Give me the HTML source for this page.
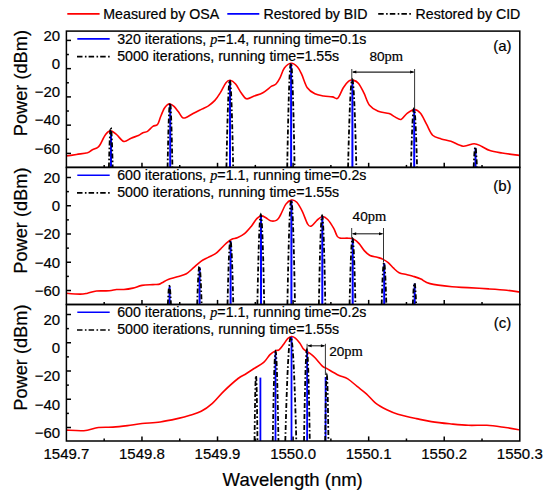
<!DOCTYPE html>
<html><head><meta charset="utf-8"><style>html,body{margin:0;padding:0;background:#fff;width:550px;height:499px;overflow:hidden} text{stroke:#000;stroke-width:0.2px}</style></head>
<body>
<svg width="550" height="499" viewBox="0 0 550 499" style="display:block">
<rect width="550" height="499" fill="#fff"/>
<line x1="67.3" y1="13.9" x2="99.6" y2="13.9" stroke="#ff0000" stroke-width="1.6"/>
<text x="103.3" y="18.6" font-size="14.2" font-family='"Liberation Sans", sans-serif' fill="#000">Measured by OSA</text>
<line x1="227.3" y1="13.9" x2="259.3" y2="13.9" stroke="#0000ff" stroke-width="1.6"/>
<text x="263.4" y="18.6" font-size="14.2" font-family='"Liberation Sans", sans-serif' fill="#000">Restored by BID</text>
<line x1="378.2" y1="13.9" x2="411" y2="13.9" stroke="#000" stroke-width="1.6" stroke-dasharray="5.5,2.4,1.6,2.1"/>
<text x="415.5" y="18.6" font-size="14.2" font-family='"Liberation Sans", sans-serif' fill="#000">Restored by CID</text>
<clipPath id="clip0"><rect x="66.4" y="31.1" width="453.4" height="136.3"/></clipPath>
<path d="M66.0,156.0 C67.8,155.8 72.9,155.1 76.5,154.5 C80.1,153.9 84.9,153.4 87.5,152.7 C90.1,151.9 90.3,150.8 92.0,150.0 C93.7,149.2 96.1,148.5 97.5,147.6 C98.9,146.7 98.9,146.7 100.2,144.5 C101.5,142.3 103.8,136.8 105.6,134.5 C107.3,132.2 108.9,130.9 110.7,130.9 C112.5,130.9 114.3,132.7 116.5,134.5 C118.7,136.3 121.4,140.9 123.8,141.5 C126.2,142.1 128.7,139.2 131.1,138.2 C133.5,137.2 136.4,136.4 138.4,135.5 C140.4,134.6 141.4,133.4 142.9,132.7 C144.4,132.0 145.8,132.4 147.5,131.3 C149.2,130.2 151.2,127.5 152.9,126.4 C154.6,125.3 156.2,126.0 157.5,124.5 C158.8,123.0 159.3,120.0 160.4,117.3 C161.5,114.6 163.0,110.6 164.2,108.5 C165.4,106.4 166.5,105.5 167.5,104.7 C168.5,104.0 169.1,103.7 170.2,104.0 C171.3,104.3 172.6,105.1 174.0,106.4 C175.4,107.7 177.0,110.0 178.4,111.8 C179.8,113.6 181.0,116.3 182.2,117.3 C183.4,118.3 183.7,118.4 185.5,117.8 C187.3,117.2 190.4,115.0 193.1,113.5 C195.8,112.0 199.2,110.4 201.8,109.1 C204.4,107.8 206.2,107.2 208.4,105.8 C210.6,104.3 212.9,102.6 214.9,100.4 C216.9,98.2 218.6,95.6 220.4,92.7 C222.2,89.8 224.2,85.0 225.8,82.9 C227.4,80.8 228.6,80.1 230.2,80.3 C231.8,80.5 233.8,81.9 235.6,84.0 C237.4,86.1 239.3,90.2 241.1,92.7 C242.9,95.2 244.3,98.2 246.5,98.8 C248.7,99.3 251.5,97.0 254.2,96.0 C256.9,95.0 260.0,94.3 262.9,92.7 C265.8,91.1 269.4,87.7 271.6,86.2 C273.8,84.8 274.6,85.4 276.0,84.0 C277.4,82.6 278.6,80.6 280.0,77.9 C281.4,75.2 282.6,70.5 284.4,68.1 C286.2,65.7 288.7,63.5 290.9,63.3 C293.1,63.1 295.7,65.1 297.5,67.0 C299.3,68.9 300.2,71.1 301.8,74.6 C303.4,78.0 305.1,84.5 307.3,87.7 C309.5,90.9 312.2,92.4 314.9,93.8 C317.6,95.2 320.7,95.5 323.6,96.0 C326.5,96.5 330.0,96.5 332.4,96.9 C334.8,97.3 336.0,99.7 337.8,98.2 C339.6,96.7 341.5,90.5 343.3,87.7 C345.1,84.9 347.1,82.5 348.7,81.2 C350.3,79.9 351.5,79.7 353.1,80.1 C354.8,80.5 356.8,81.2 358.6,83.4 C360.4,85.6 362.2,89.6 364.0,93.2 C365.8,96.8 367.1,102.2 369.5,105.2 C371.9,108.2 374.9,109.9 378.2,111.3 C381.5,112.7 386.3,112.6 389.1,113.5 C391.9,114.4 392.9,115.9 394.9,116.9 C396.9,117.9 399.0,120.0 401.0,119.4 C403.0,118.8 404.9,114.9 407.1,113.3 C409.3,111.7 412.2,109.6 414.4,109.6 C416.6,109.6 418.5,110.9 420.5,113.3 C422.5,115.7 424.5,120.6 426.5,124.2 C428.5,127.8 430.2,132.8 432.6,135.2 C435.1,137.6 438.1,137.9 441.2,138.9 C444.2,139.9 447.2,140.1 450.9,141.3 C454.5,142.5 459.2,145.8 463.1,146.2 C467.0,146.6 471.1,143.7 474.1,143.7 C477.2,143.7 478.8,145.0 481.4,146.2 C484.0,147.3 486.4,149.5 489.9,150.6 C493.3,151.7 497.2,152.2 502.1,153.0 C507.0,153.8 516.3,155.0 519.1,155.4" fill="none" stroke="#ff0000" stroke-width="1.6" clip-path="url(#clip0)"/>
<line x1="111" y1="131" x2="111" y2="167.4" stroke="#0000ff" stroke-width="2"/>
<path d="M108.91,167.40 L109.04,161.90 L109.18,156.81 L109.31,152.13 L109.45,147.86 L109.58,143.99 L109.72,140.53 L109.85,137.47 L109.99,134.83 L110.12,132.59 L110.26,130.76 L110.39,129.33 L110.53,128.31 L110.66,127.70 L110.80,127.50 L110.94,127.70 L111.07,128.31 L111.21,129.33 L111.34,130.76 L111.48,132.59 L111.61,134.83 L111.75,137.47 L111.88,140.53 L112.02,143.99 L112.15,147.86 L112.29,152.13 L112.42,156.81 L112.56,161.90 L112.69,167.40" fill="none" stroke="#000" stroke-width="1.8" stroke-dasharray="5,2.2,1.6,2.2"/>
<line x1="170.2" y1="104" x2="170.2" y2="167.4" stroke="#0000ff" stroke-width="2"/>
<path d="M167.59,167.40 L167.76,158.53 L167.94,150.31 L168.11,142.76 L168.28,135.86 L168.45,129.61 L168.62,124.03 L168.80,119.10 L168.97,114.83 L169.14,111.21 L169.31,108.26 L169.48,105.96 L169.66,104.31 L169.83,103.33 L170.00,103.00 L170.17,103.33 L170.34,104.31 L170.52,105.96 L170.69,108.26 L170.86,111.21 L171.03,114.83 L171.20,119.10 L171.38,124.03 L171.55,129.61 L171.72,135.86 L171.89,142.76 L172.06,150.31 L172.24,158.53 L172.41,167.40" fill="none" stroke="#000" stroke-width="1.8" stroke-dasharray="5,2.2,1.6,2.2"/>
<line x1="230" y1="80.8" x2="230" y2="167.4" stroke="#0000ff" stroke-width="2"/>
<path d="M226.43,167.40 L226.67,155.36 L226.92,144.21 L227.16,133.96 L227.40,124.59 L227.64,116.12 L227.88,108.54 L228.12,101.85 L228.36,96.05 L228.60,91.15 L228.84,87.13 L229.08,84.01 L229.32,81.78 L229.56,80.45 L229.80,80.00 L230.04,80.45 L230.28,81.78 L230.52,84.01 L230.76,87.13 L231.00,91.15 L231.24,96.05 L231.48,101.85 L231.72,108.54 L231.96,116.12 L232.20,124.59 L232.44,133.96 L232.68,144.21 L232.93,155.36 L233.17,167.40" fill="none" stroke="#000" stroke-width="1.8" stroke-dasharray="5,2.2,1.6,2.2"/>
<line x1="291.1" y1="63.7" x2="291.1" y2="167.4" stroke="#0000ff" stroke-width="2"/>
<path d="M287.22,167.40 L287.48,153.02 L287.75,139.70 L288.01,127.45 L288.27,116.27 L288.54,106.14 L288.80,97.09 L289.06,89.10 L289.32,82.18 L289.59,76.32 L289.85,71.52 L290.11,67.79 L290.37,65.13 L290.64,63.53 L290.90,63.00 L291.16,63.53 L291.43,65.13 L291.69,67.79 L291.95,71.52 L292.21,76.32 L292.48,82.18 L292.74,89.10 L293.00,97.09 L293.26,106.14 L293.53,116.27 L293.79,127.45 L294.05,139.70 L294.32,153.02 L294.58,167.40" fill="none" stroke="#000" stroke-width="1.8" stroke-dasharray="5,2.2,1.6,2.2"/>
<line x1="352.4" y1="80.1" x2="352.4" y2="167.4" stroke="#0000ff" stroke-width="2"/>
<path d="M348.07,167.40 L348.37,155.29 L348.66,144.08 L348.96,133.76 L349.25,124.35 L349.55,115.83 L349.84,108.20 L350.14,101.47 L350.43,95.64 L350.73,90.71 L351.02,86.68 L351.32,83.54 L351.61,81.29 L351.91,79.95 L352.20,79.50 L352.49,79.95 L352.79,81.29 L353.08,83.54 L353.38,86.68 L353.67,90.71 L353.97,95.64 L354.26,101.47 L354.56,108.20 L354.85,115.83 L355.15,124.35 L355.44,133.76 L355.74,144.08 L356.03,155.29 L356.33,167.40" fill="none" stroke="#000" stroke-width="1.8" stroke-dasharray="5,2.2,1.6,2.2"/>
<line x1="414.2" y1="109" x2="414.2" y2="167.4" stroke="#0000ff" stroke-width="2"/>
<path d="M410.93,167.40 L411.15,159.29 L411.37,151.77 L411.59,144.86 L411.81,138.55 L412.03,132.84 L412.25,127.73 L412.47,123.22 L412.68,119.32 L412.90,116.01 L413.12,113.31 L413.34,111.20 L413.56,109.70 L413.78,108.80 L414.00,108.50 L414.22,108.80 L414.44,109.70 L414.66,111.20 L414.88,113.31 L415.10,116.01 L415.32,119.32 L415.53,123.22 L415.75,127.73 L415.97,132.84 L416.19,138.55 L416.41,144.86 L416.63,151.77 L416.85,159.29 L417.07,167.40" fill="none" stroke="#000" stroke-width="1.8" stroke-dasharray="5,2.2,1.6,2.2"/>
<line x1="475.5" y1="147.8" x2="475.5" y2="167.4" stroke="#0000ff" stroke-width="2"/>
<path d="M473.67,167.40 L473.79,164.59 L473.91,161.99 L474.02,159.59 L474.14,157.41 L474.25,155.43 L474.37,153.66 L474.49,152.10 L474.60,150.75 L474.72,149.60 L474.84,148.67 L474.95,147.94 L475.07,147.42 L475.18,147.10 L475.30,147.00 L475.42,147.10 L475.53,147.42 L475.65,147.94 L475.76,148.67 L475.88,149.60 L476.00,150.75 L476.11,152.10 L476.23,153.66 L476.35,155.43 L476.46,157.41 L476.58,159.59 L476.69,161.99 L476.81,164.59 L476.93,167.40" fill="none" stroke="#000" stroke-width="1.8" stroke-dasharray="5,2.2,1.6,2.2"/>
<line x1="77.3" y1="38.9" x2="109.7" y2="38.9" stroke="#0000ff" stroke-width="1.6"/>
<line x1="77" y1="56.6" x2="110" y2="56.6" stroke="#000" stroke-width="1.6" stroke-dasharray="5.5,2.4,1.6,2.1"/>
<text x="117.2" y="43.7" font-size="14.2" font-family='"Liberation Sans", sans-serif' fill="#000">320 iterations, <tspan font-family='"Liberation Serif", serif' font-style="italic">p</tspan>=1.4, running time=0.1s</text>
<text x="117.2" y="60.900000000000006" font-size="14.2" font-family='"Liberation Sans", sans-serif' fill="#000">5000 iterations, running time=1.55s</text>
<text x="493.2" y="51.4" font-size="15" font-family='"Liberation Sans", sans-serif' fill="#000">(a)</text>
<rect x="66.4" y="31.1" width="453.4" height="136.3" fill="none" stroke="#000" stroke-width="1.5"/>
<line x1="66.4" y1="40.40" x2="71.0" y2="40.40" stroke="#000" stroke-width="1.5"/>
<text x="60.2" y="40.50" font-size="15" text-anchor="end" font-family='"Liberation Sans", sans-serif' fill="#000">20</text>
<line x1="66.4" y1="54.52" x2="68.9" y2="54.52" stroke="#000" stroke-width="1.5"/>
<line x1="66.4" y1="68.65" x2="71.0" y2="68.65" stroke="#000" stroke-width="1.5"/>
<text x="60.2" y="68.75" font-size="15" text-anchor="end" font-family='"Liberation Sans", sans-serif' fill="#000">0</text>
<line x1="66.4" y1="82.78" x2="68.9" y2="82.78" stroke="#000" stroke-width="1.5"/>
<line x1="66.4" y1="96.90" x2="71.0" y2="96.90" stroke="#000" stroke-width="1.5"/>
<text x="60.2" y="97.00" font-size="15" text-anchor="end" font-family='"Liberation Sans", sans-serif' fill="#000">−20</text>
<line x1="66.4" y1="111.03" x2="68.9" y2="111.03" stroke="#000" stroke-width="1.5"/>
<line x1="66.4" y1="125.15" x2="71.0" y2="125.15" stroke="#000" stroke-width="1.5"/>
<text x="60.2" y="125.25" font-size="15" text-anchor="end" font-family='"Liberation Sans", sans-serif' fill="#000">−40</text>
<line x1="66.4" y1="139.28" x2="68.9" y2="139.28" stroke="#000" stroke-width="1.5"/>
<line x1="66.4" y1="153.40" x2="71.0" y2="153.40" stroke="#000" stroke-width="1.5"/>
<text x="60.2" y="153.50" font-size="15" text-anchor="end" font-family='"Liberation Sans", sans-serif' fill="#000">−60</text>
<line x1="104.18" y1="167.4" x2="104.18" y2="164.9" stroke="#000" stroke-width="1.5"/>
<line x1="141.97" y1="167.4" x2="141.97" y2="162.8" stroke="#000" stroke-width="1.5"/>
<line x1="179.75" y1="167.4" x2="179.75" y2="164.9" stroke="#000" stroke-width="1.5"/>
<line x1="217.53" y1="167.4" x2="217.53" y2="162.8" stroke="#000" stroke-width="1.5"/>
<line x1="255.32" y1="167.4" x2="255.32" y2="164.9" stroke="#000" stroke-width="1.5"/>
<line x1="293.10" y1="167.4" x2="293.10" y2="162.8" stroke="#000" stroke-width="1.5"/>
<line x1="330.88" y1="167.4" x2="330.88" y2="164.9" stroke="#000" stroke-width="1.5"/>
<line x1="368.67" y1="167.4" x2="368.67" y2="162.8" stroke="#000" stroke-width="1.5"/>
<line x1="406.45" y1="167.4" x2="406.45" y2="164.9" stroke="#000" stroke-width="1.5"/>
<line x1="444.23" y1="167.4" x2="444.23" y2="162.8" stroke="#000" stroke-width="1.5"/>
<line x1="482.02" y1="167.4" x2="482.02" y2="164.9" stroke="#000" stroke-width="1.5"/>
<text transform="translate(26.5,83.1) rotate(-90)" x="0" y="0" font-size="18.2" text-anchor="middle" font-family='"Liberation Sans", sans-serif' fill="#000">Power (dBm)</text>
<clipPath id="clip1"><rect x="66.4" y="167.4" width="453.4" height="137.1"/></clipPath>
<path d="M66.0,293.2 C68.4,293.4 76.6,294.1 80.2,294.1 C83.8,294.1 84.8,293.7 87.5,293.2 C90.2,292.7 92.9,291.4 96.5,291.0 C100.1,290.6 106.0,291.1 109.3,290.8 C112.6,290.6 114.1,289.7 116.5,289.5 C118.9,289.3 121.1,289.7 123.8,289.5 C126.5,289.3 129.9,288.8 132.9,288.1 C135.9,287.4 138.7,286.0 142.0,285.4 C145.3,284.8 150.2,284.8 152.9,284.6 C155.6,284.4 156.9,284.7 158.4,284.4 C159.9,284.1 160.4,283.6 162.0,282.8 C163.6,282.0 165.6,280.5 168.2,279.5 C170.8,278.5 174.3,277.8 177.3,276.8 C180.3,275.8 183.7,275.2 186.4,273.7 C189.1,272.2 191.2,269.8 193.6,267.7 C196.0,265.6 198.5,263.1 200.9,261.4 C203.3,259.7 205.8,258.7 208.2,257.4 C210.6,256.1 213.4,255.2 215.5,253.7 C217.6,252.2 219.1,250.3 220.9,248.6 C222.7,246.8 224.6,244.8 226.4,243.2 C228.2,241.6 230.0,240.1 231.8,239.2 C233.6,238.3 235.2,238.6 237.3,237.7 C239.4,236.8 242.2,235.6 244.5,233.7 C246.8,231.8 249.3,228.7 251.4,226.2 C253.5,223.7 255.1,220.3 256.8,218.6 C258.5,216.9 259.9,216.1 261.4,215.9 C262.9,215.8 264.4,216.9 265.9,217.7 C267.4,218.5 268.7,220.4 270.5,220.8 C272.3,221.2 275.1,221.1 276.8,220.1 C278.5,219.1 279.0,217.7 280.5,215.0 C282.0,212.3 284.1,206.6 285.9,204.1 C287.7,201.6 289.6,200.4 291.4,200.1 C293.2,199.8 295.0,200.4 296.8,202.3 C298.6,204.2 300.5,207.8 302.3,211.4 C304.1,215.0 306.2,221.7 307.7,224.1 C309.2,226.5 309.9,226.5 311.4,225.9 C312.9,225.3 315.0,222.1 316.8,220.5 C318.6,218.9 320.5,216.7 322.3,216.5 C324.1,216.3 325.8,217.6 327.7,219.5 C329.6,221.4 332.0,225.4 333.6,228.2 C335.2,231.0 336.1,234.7 337.3,236.4 C338.5,238.1 339.1,237.9 340.9,238.2 C342.7,238.5 346.1,238.0 348.2,238.2 C350.3,238.3 351.8,238.2 353.6,239.1 C355.4,240.0 357.3,241.6 359.1,243.6 C360.9,245.6 362.7,248.9 364.5,250.9 C366.3,252.9 367.9,254.4 370.0,255.5 C372.1,256.6 375.2,256.7 377.3,257.3 C379.4,257.9 380.9,258.2 382.7,259.1 C384.5,260.0 386.4,261.2 388.2,262.7 C390.0,264.2 391.8,266.5 393.6,268.2 C395.4,269.9 397.0,271.6 399.1,272.7 C401.2,273.8 404.0,273.9 406.4,274.5 C408.8,275.1 411.2,275.6 413.6,276.4 C416.0,277.2 418.2,277.9 420.9,279.1 C423.6,280.3 424.8,282.3 430.0,283.6 C435.2,284.9 445.8,286.1 452.1,286.8 C458.4,287.5 461.6,287.2 467.7,287.6 C473.8,288.0 482.1,288.5 488.6,288.9 C495.1,289.3 501.7,289.7 506.8,290.2 C511.9,290.7 517.2,291.7 519.3,292.0" fill="none" stroke="#ff0000" stroke-width="1.6" clip-path="url(#clip1)"/>
<line x1="169.6" y1="286.8" x2="169.6" y2="304.5" stroke="#0000ff" stroke-width="2"/>
<path d="M167.85,304.50 L167.96,301.95 L168.07,299.59 L168.18,297.42 L168.29,295.44 L168.40,293.65 L168.52,292.04 L168.63,290.62 L168.74,289.40 L168.85,288.36 L168.96,287.51 L169.07,286.85 L169.18,286.38 L169.29,286.09 L169.40,286.00 L169.51,286.09 L169.62,286.38 L169.73,286.85 L169.84,287.51 L169.95,288.36 L170.06,289.40 L170.17,290.62 L170.28,292.04 L170.40,293.65 L170.51,295.44 L170.62,297.42 L170.73,299.59 L170.84,301.95 L170.95,304.50" fill="none" stroke="#000" stroke-width="1.8" stroke-dasharray="5,2.2,1.6,2.2"/>
<line x1="199.6" y1="267.2" x2="199.6" y2="304.5" stroke="#0000ff" stroke-width="2"/>
<path d="M197.18,304.50 L197.34,299.27 L197.50,294.42 L197.66,289.96 L197.81,285.89 L197.97,282.20 L198.13,278.91 L198.29,276.00 L198.45,273.48 L198.61,271.35 L198.77,269.60 L198.92,268.24 L199.08,267.28 L199.24,266.69 L199.40,266.50 L199.56,266.69 L199.72,267.28 L199.88,268.24 L200.03,269.60 L200.19,271.35 L200.35,273.48 L200.51,276.00 L200.67,278.91 L200.83,282.20 L200.99,285.89 L201.14,289.96 L201.30,294.42 L201.46,299.27 L201.62,304.50" fill="none" stroke="#000" stroke-width="1.8" stroke-dasharray="5,2.2,1.6,2.2"/>
<line x1="230.6" y1="241" x2="230.6" y2="304.5" stroke="#0000ff" stroke-width="2"/>
<path d="M227.52,304.50 L227.73,295.68 L227.93,287.52 L228.14,280.01 L228.34,273.15 L228.55,266.95 L228.75,261.40 L228.96,256.50 L229.17,252.26 L229.37,248.66 L229.58,245.72 L229.78,243.44 L229.99,241.81 L230.19,240.83 L230.40,240.50 L230.61,240.83 L230.81,241.81 L231.02,243.44 L231.22,245.72 L231.43,248.66 L231.63,252.26 L231.84,256.50 L232.05,261.40 L232.25,266.95 L232.46,273.15 L232.66,280.01 L232.87,287.52 L233.07,295.68 L233.28,304.50" fill="none" stroke="#000" stroke-width="1.8" stroke-dasharray="5,2.2,1.6,2.2"/>
<line x1="261" y1="215" x2="261" y2="304.5" stroke="#0000ff" stroke-width="2"/>
<path d="M257.38,304.50 L257.63,292.10 L257.87,280.62 L258.12,270.06 L258.36,260.42 L258.60,251.69 L258.85,243.89 L259.09,237.00 L259.34,231.03 L259.58,225.98 L259.82,221.85 L260.07,218.63 L260.31,216.34 L260.56,214.96 L260.80,214.50 L261.04,214.96 L261.29,216.34 L261.53,218.63 L261.78,221.85 L262.02,225.98 L262.26,231.03 L262.51,237.00 L262.75,243.89 L263.00,251.69 L263.24,260.42 L263.48,270.06 L263.73,280.62 L263.97,292.10 L264.22,304.50" fill="none" stroke="#000" stroke-width="1.8" stroke-dasharray="5,2.2,1.6,2.2"/>
<line x1="291.4" y1="200.5" x2="291.4" y2="304.5" stroke="#0000ff" stroke-width="2"/>
<path d="M287.42,304.50 L287.69,290.10 L287.96,276.78 L288.23,264.51 L288.50,253.32 L288.77,243.19 L289.04,234.12 L289.31,226.12 L289.58,219.19 L289.85,213.33 L290.12,208.53 L290.39,204.80 L290.66,202.13 L290.93,200.53 L291.20,200.00 L291.47,200.53 L291.74,202.13 L292.01,204.80 L292.28,208.53 L292.55,213.33 L292.82,219.19 L293.09,226.12 L293.36,234.12 L293.63,243.19 L293.90,253.32 L294.17,264.51 L294.44,276.78 L294.71,290.10 L294.98,304.50" fill="none" stroke="#000" stroke-width="1.8" stroke-dasharray="5,2.2,1.6,2.2"/>
<line x1="322.3" y1="216.2" x2="322.3" y2="304.5" stroke="#0000ff" stroke-width="2"/>
<path d="M318.90,304.50 L319.12,292.27 L319.35,280.94 L319.58,270.52 L319.81,261.01 L320.04,252.40 L320.27,244.70 L320.50,237.90 L320.73,232.01 L320.96,227.03 L321.18,222.95 L321.41,219.78 L321.64,217.51 L321.87,216.15 L322.10,215.70 L322.33,216.15 L322.56,217.51 L322.79,219.78 L323.02,222.95 L323.24,227.03 L323.47,232.01 L323.70,237.90 L323.93,244.70 L324.16,252.40 L324.39,261.01 L324.62,270.52 L324.85,280.94 L325.08,292.27 L325.30,304.50" fill="none" stroke="#000" stroke-width="1.8" stroke-dasharray="5,2.2,1.6,2.2"/>
<line x1="352.7" y1="239" x2="352.7" y2="304.5" stroke="#0000ff" stroke-width="2"/>
<path d="M349.58,304.50 L349.78,295.41 L349.99,286.99 L350.20,279.24 L350.41,272.17 L350.62,265.78 L350.83,260.05 L351.04,255.00 L351.25,250.62 L351.46,246.92 L351.66,243.89 L351.87,241.53 L352.08,239.85 L352.29,238.84 L352.50,238.50 L352.71,238.84 L352.92,239.85 L353.13,241.53 L353.34,243.89 L353.54,246.92 L353.75,250.62 L353.96,255.00 L354.17,260.05 L354.38,265.78 L354.59,272.17 L354.80,279.24 L355.01,286.99 L355.22,295.41 L355.42,304.50" fill="none" stroke="#000" stroke-width="1.8" stroke-dasharray="5,2.2,1.6,2.2"/>
<line x1="384.2" y1="263.2" x2="384.2" y2="304.5" stroke="#0000ff" stroke-width="2"/>
<path d="M381.67,304.50 L381.84,298.74 L382.00,293.41 L382.17,288.51 L382.34,284.03 L382.50,279.97 L382.67,276.35 L382.84,273.15 L383.00,270.38 L383.17,268.03 L383.33,266.11 L383.50,264.62 L383.67,263.55 L383.83,262.91 L384.00,262.70 L384.17,262.91 L384.33,263.55 L384.50,264.62 L384.67,266.11 L384.83,268.03 L385.00,270.38 L385.16,273.15 L385.33,276.35 L385.50,279.97 L385.66,284.03 L385.83,288.51 L386.00,293.41 L386.16,298.74 L386.33,304.50" fill="none" stroke="#000" stroke-width="1.8" stroke-dasharray="5,2.2,1.6,2.2"/>
<line x1="414.7" y1="283.6" x2="414.7" y2="304.5" stroke="#0000ff" stroke-width="2"/>
<path d="M412.83,304.50 L412.95,301.54 L413.07,298.80 L413.19,296.27 L413.31,293.97 L413.43,291.89 L413.55,290.02 L413.67,288.38 L413.78,286.95 L413.90,285.74 L414.02,284.76 L414.14,283.99 L414.26,283.44 L414.38,283.11 L414.50,283.00 L414.62,283.11 L414.74,283.44 L414.86,283.99 L414.98,284.76 L415.10,285.74 L415.22,286.95 L415.33,288.38 L415.45,290.02 L415.57,291.89 L415.69,293.97 L415.81,296.27 L415.93,298.80 L416.05,301.54 L416.17,304.50" fill="none" stroke="#000" stroke-width="1.8" stroke-dasharray="5,2.2,1.6,2.2"/>
<line x1="77.3" y1="175.20000000000002" x2="109.7" y2="175.20000000000002" stroke="#0000ff" stroke-width="1.6"/>
<line x1="77" y1="192.9" x2="110" y2="192.9" stroke="#000" stroke-width="1.6" stroke-dasharray="5.5,2.4,1.6,2.1"/>
<text x="117.2" y="180.0" font-size="14.2" font-family='"Liberation Sans", sans-serif' fill="#000">600 iterations, <tspan font-family='"Liberation Serif", serif' font-style="italic">p</tspan>=1.1, running time=0.2s</text>
<text x="117.2" y="197.20000000000002" font-size="14.2" font-family='"Liberation Sans", sans-serif' fill="#000">5000 iterations, running time=1.55s</text>
<text x="493.2" y="190.70000000000002" font-size="15" font-family='"Liberation Sans", sans-serif' fill="#000">(b)</text>
<rect x="66.4" y="167.4" width="453.4" height="137.1" fill="none" stroke="#000" stroke-width="1.5"/>
<line x1="66.4" y1="177.50" x2="71.0" y2="177.50" stroke="#000" stroke-width="1.5"/>
<text x="60.2" y="182.80" font-size="15" text-anchor="end" font-family='"Liberation Sans", sans-serif' fill="#000">20</text>
<line x1="66.4" y1="191.62" x2="68.9" y2="191.62" stroke="#000" stroke-width="1.5"/>
<line x1="66.4" y1="205.75" x2="71.0" y2="205.75" stroke="#000" stroke-width="1.5"/>
<text x="60.2" y="211.05" font-size="15" text-anchor="end" font-family='"Liberation Sans", sans-serif' fill="#000">0</text>
<line x1="66.4" y1="219.88" x2="68.9" y2="219.88" stroke="#000" stroke-width="1.5"/>
<line x1="66.4" y1="234.00" x2="71.0" y2="234.00" stroke="#000" stroke-width="1.5"/>
<text x="60.2" y="239.30" font-size="15" text-anchor="end" font-family='"Liberation Sans", sans-serif' fill="#000">−20</text>
<line x1="66.4" y1="248.12" x2="68.9" y2="248.12" stroke="#000" stroke-width="1.5"/>
<line x1="66.4" y1="262.25" x2="71.0" y2="262.25" stroke="#000" stroke-width="1.5"/>
<text x="60.2" y="267.55" font-size="15" text-anchor="end" font-family='"Liberation Sans", sans-serif' fill="#000">−40</text>
<line x1="66.4" y1="276.38" x2="68.9" y2="276.38" stroke="#000" stroke-width="1.5"/>
<line x1="66.4" y1="290.50" x2="71.0" y2="290.50" stroke="#000" stroke-width="1.5"/>
<text x="60.2" y="295.80" font-size="15" text-anchor="end" font-family='"Liberation Sans", sans-serif' fill="#000">−60</text>
<line x1="104.18" y1="304.5" x2="104.18" y2="302.0" stroke="#000" stroke-width="1.5"/>
<line x1="141.97" y1="304.5" x2="141.97" y2="299.9" stroke="#000" stroke-width="1.5"/>
<line x1="179.75" y1="304.5" x2="179.75" y2="302.0" stroke="#000" stroke-width="1.5"/>
<line x1="217.53" y1="304.5" x2="217.53" y2="299.9" stroke="#000" stroke-width="1.5"/>
<line x1="255.32" y1="304.5" x2="255.32" y2="302.0" stroke="#000" stroke-width="1.5"/>
<line x1="293.10" y1="304.5" x2="293.10" y2="299.9" stroke="#000" stroke-width="1.5"/>
<line x1="330.88" y1="304.5" x2="330.88" y2="302.0" stroke="#000" stroke-width="1.5"/>
<line x1="368.67" y1="304.5" x2="368.67" y2="299.9" stroke="#000" stroke-width="1.5"/>
<line x1="406.45" y1="304.5" x2="406.45" y2="302.0" stroke="#000" stroke-width="1.5"/>
<line x1="444.23" y1="304.5" x2="444.23" y2="299.9" stroke="#000" stroke-width="1.5"/>
<line x1="482.02" y1="304.5" x2="482.02" y2="302.0" stroke="#000" stroke-width="1.5"/>
<text transform="translate(26.5,220.60000000000002) rotate(-90)" x="0" y="0" font-size="18.2" text-anchor="middle" font-family='"Liberation Sans", sans-serif' fill="#000">Power (dBm)</text>
<clipPath id="clip2"><rect x="66.4" y="304.5" width="453.4" height="136.5"/></clipPath>
<path d="M66.0,430.1 C69.0,430.2 78.4,431.1 83.8,430.7 C89.2,430.3 93.6,428.1 98.4,427.5 C103.2,426.9 108.1,427.4 112.9,427.1 C117.8,426.8 122.7,426.2 127.5,425.6 C132.3,425.0 136.6,424.1 142.0,423.5 C147.4,422.9 154.1,422.9 160.2,422.0 C166.3,421.1 173.4,419.5 178.4,418.4 C183.4,417.3 186.2,416.5 190.0,415.3 C193.8,414.1 197.5,413.3 201.2,411.3 C204.9,409.3 208.7,406.6 212.4,403.3 C216.2,400.0 219.4,395.4 223.7,391.3 C228.0,387.2 234.4,381.4 238.1,378.5 C241.8,375.6 243.4,375.4 246.1,373.7 C248.8,372.0 251.2,370.4 254.1,368.5 C257.0,366.6 261.1,364.7 263.7,362.4 C266.3,360.1 268.0,356.6 270.0,354.6 C272.0,352.6 274.2,351.4 275.7,350.6 C277.2,349.8 277.7,350.9 279.0,349.9 C280.3,348.9 281.9,346.5 283.4,344.6 C284.8,342.7 286.3,340.0 287.7,338.6 C289.1,337.2 290.2,336.6 291.5,336.5 C292.8,336.4 293.9,337.0 295.3,338.1 C296.7,339.2 298.4,341.3 299.7,343.0 C301.0,344.7 301.9,347.0 303.0,348.4 C304.1,349.8 305.0,350.3 306.3,351.2 C307.6,352.1 309.2,352.8 310.6,353.9 C312.1,355.0 313.0,355.6 315.0,357.7 C317.0,359.8 320.5,364.4 322.6,366.3 C324.7,368.2 324.8,367.4 327.4,368.9 C330.0,370.4 335.1,373.5 338.5,375.2 C341.9,376.9 344.7,377.0 347.8,378.9 C350.9,380.8 354.0,383.9 357.1,386.4 C360.2,388.9 363.3,391.0 366.4,393.8 C369.5,396.6 372.2,400.5 375.6,403.1 C379.0,405.8 383.1,407.9 386.8,409.7 C390.5,411.5 393.0,412.7 397.9,414.2 C402.8,415.7 410.8,417.4 416.4,418.6 C422.0,419.8 425.7,420.7 431.3,421.6 C436.9,422.5 443.6,423.2 449.8,423.8 C456.0,424.4 462.2,425.1 468.4,425.3 C474.6,425.6 480.7,424.9 486.9,425.3 C493.1,425.7 500.1,426.8 505.5,427.5 C510.9,428.2 516.8,429.4 519.0,429.8" fill="none" stroke="#ff0000" stroke-width="1.6" clip-path="url(#clip2)"/>
<line x1="260.4" y1="377.6" x2="260.4" y2="441.0" stroke="#0000ff" stroke-width="1.8"/>
<line x1="275.5" y1="352.2" x2="275.5" y2="441.0" stroke="#0000ff" stroke-width="1.8"/>
<line x1="291.5" y1="336.8" x2="291.5" y2="441.0" stroke="#0000ff" stroke-width="1.8"/>
<line x1="307.1" y1="351" x2="307.1" y2="441.0" stroke="#0000ff" stroke-width="1.8"/>
<line x1="325.6" y1="377" x2="325.6" y2="441.0" stroke="#0000ff" stroke-width="1.8"/>
<path d="M254.54,441.00 L254.65,431.99 L254.75,423.65 L254.86,415.97 L254.96,408.97 L255.06,402.63 L255.17,396.96 L255.27,391.95 L255.38,387.61 L255.48,383.94 L255.58,380.94 L255.69,378.60 L255.79,376.93 L255.90,375.93 L256.00,375.60 L256.10,375.93 L256.21,376.93 L256.31,378.60 L256.42,380.94 L256.52,383.94 L256.62,387.61 L256.73,391.95 L256.83,396.96 L256.94,402.63 L257.04,408.97 L257.14,415.97 L257.25,423.65 L257.35,431.99 L257.46,441.00" fill="none" stroke="#000" stroke-width="1.8" stroke-dasharray="5,2.2,1.6,2.2"/>
<path d="M272.76,441.00 L272.97,428.68 L273.17,417.28 L273.37,406.79 L273.57,397.21 L273.78,388.55 L273.98,380.79 L274.18,373.95 L274.38,368.02 L274.59,363.00 L274.79,358.90 L274.99,355.71 L275.19,353.42 L275.40,352.06 L275.60,351.60 L275.80,352.06 L276.01,353.42 L276.21,355.71 L276.41,358.90 L276.61,363.00 L276.82,368.02 L277.02,373.95 L277.22,380.79 L277.42,388.55 L277.63,397.21 L277.83,406.79 L278.03,417.28 L278.23,428.68 L278.44,441.00" fill="none" stroke="#000" stroke-width="1.8" stroke-dasharray="5,2.2,1.6,2.2"/>
<path d="M285.29,441.00 L285.69,426.67 L286.08,413.41 L286.47,401.20 L286.87,390.06 L287.26,379.98 L287.65,370.96 L288.05,363.00 L288.44,356.10 L288.83,350.27 L289.23,345.49 L289.62,341.78 L290.01,339.12 L290.41,337.53 L290.80,337.00 L291.19,337.53 L291.59,339.12 L291.98,341.78 L292.37,345.49 L292.77,350.27 L293.16,356.10 L293.55,363.00 L293.95,370.96 L294.34,379.98 L294.73,390.06 L295.13,401.20 L295.52,413.41 L295.91,426.67 L296.31,441.00" fill="none" stroke="#000" stroke-width="1.8" stroke-dasharray="5,2.2,1.6,2.2"/>
<path d="M304.03,441.00 L304.24,428.40 L304.44,416.72 L304.65,405.99 L304.85,396.18 L305.06,387.31 L305.26,379.38 L305.47,372.38 L305.67,366.31 L305.88,361.17 L306.08,356.97 L306.29,353.70 L306.49,351.37 L306.70,349.97 L306.90,349.50 L307.10,349.97 L307.31,351.37 L307.51,353.70 L307.72,356.97 L307.92,361.17 L308.13,366.31 L308.33,372.38 L308.54,379.38 L308.74,387.31 L308.95,396.18 L309.15,405.99 L309.36,416.72 L309.56,428.40 L309.77,441.00" fill="none" stroke="#000" stroke-width="1.8" stroke-dasharray="5,2.2,1.6,2.2"/>
<path d="M325.18,441.00 L325.29,431.91 L325.41,423.49 L325.52,415.74 L325.64,408.67 L325.76,402.28 L325.87,396.55 L325.99,391.50 L326.10,387.12 L326.22,383.42 L326.34,380.39 L326.45,378.03 L326.57,376.35 L326.68,375.34 L326.80,375.00 L326.92,375.34 L327.03,376.35 L327.15,378.03 L327.26,380.39 L327.38,383.42 L327.50,387.12 L327.61,391.50 L327.73,396.55 L327.84,402.28 L327.96,408.67 L328.08,415.74 L328.19,423.49 L328.31,431.91 L328.42,441.00" fill="none" stroke="#000" stroke-width="1.8" stroke-dasharray="5,2.2,1.6,2.2"/>
<line x1="77.3" y1="312.3" x2="109.7" y2="312.3" stroke="#0000ff" stroke-width="1.6"/>
<line x1="77" y1="330.0" x2="110" y2="330.0" stroke="#000" stroke-width="1.6" stroke-dasharray="5.5,2.4,1.6,2.1"/>
<text x="117.2" y="317.1" font-size="14.2" font-family='"Liberation Sans", sans-serif' fill="#000">600 iterations, <tspan font-family='"Liberation Serif", serif' font-style="italic">p</tspan>=1.1, running time=0.2s</text>
<text x="117.2" y="334.3" font-size="14.2" font-family='"Liberation Sans", sans-serif' fill="#000">5000 iterations, running time=1.55s</text>
<text x="493.7" y="328.0" font-size="15" font-family='"Liberation Sans", sans-serif' fill="#000">(c)</text>
<rect x="66.4" y="304.5" width="453.4" height="136.5" fill="none" stroke="#000" stroke-width="1.5"/>
<line x1="66.4" y1="314.50" x2="71.0" y2="314.50" stroke="#000" stroke-width="1.5"/>
<text x="60.2" y="324.90" font-size="15" text-anchor="end" font-family='"Liberation Sans", sans-serif' fill="#000">20</text>
<line x1="66.4" y1="328.62" x2="68.9" y2="328.62" stroke="#000" stroke-width="1.5"/>
<line x1="66.4" y1="342.75" x2="71.0" y2="342.75" stroke="#000" stroke-width="1.5"/>
<text x="60.2" y="353.15" font-size="15" text-anchor="end" font-family='"Liberation Sans", sans-serif' fill="#000">0</text>
<line x1="66.4" y1="356.88" x2="68.9" y2="356.88" stroke="#000" stroke-width="1.5"/>
<line x1="66.4" y1="371.00" x2="71.0" y2="371.00" stroke="#000" stroke-width="1.5"/>
<text x="60.2" y="381.40" font-size="15" text-anchor="end" font-family='"Liberation Sans", sans-serif' fill="#000">−20</text>
<line x1="66.4" y1="385.12" x2="68.9" y2="385.12" stroke="#000" stroke-width="1.5"/>
<line x1="66.4" y1="399.25" x2="71.0" y2="399.25" stroke="#000" stroke-width="1.5"/>
<text x="60.2" y="409.65" font-size="15" text-anchor="end" font-family='"Liberation Sans", sans-serif' fill="#000">−40</text>
<line x1="66.4" y1="413.38" x2="68.9" y2="413.38" stroke="#000" stroke-width="1.5"/>
<line x1="66.4" y1="427.50" x2="71.0" y2="427.50" stroke="#000" stroke-width="1.5"/>
<text x="60.2" y="437.90" font-size="15" text-anchor="end" font-family='"Liberation Sans", sans-serif' fill="#000">−60</text>
<line x1="104.18" y1="441.0" x2="104.18" y2="438.5" stroke="#000" stroke-width="1.5"/>
<line x1="141.97" y1="441.0" x2="141.97" y2="436.4" stroke="#000" stroke-width="1.5"/>
<line x1="179.75" y1="441.0" x2="179.75" y2="438.5" stroke="#000" stroke-width="1.5"/>
<line x1="217.53" y1="441.0" x2="217.53" y2="436.4" stroke="#000" stroke-width="1.5"/>
<line x1="255.32" y1="441.0" x2="255.32" y2="438.5" stroke="#000" stroke-width="1.5"/>
<line x1="293.10" y1="441.0" x2="293.10" y2="436.4" stroke="#000" stroke-width="1.5"/>
<line x1="330.88" y1="441.0" x2="330.88" y2="438.5" stroke="#000" stroke-width="1.5"/>
<line x1="368.67" y1="441.0" x2="368.67" y2="436.4" stroke="#000" stroke-width="1.5"/>
<line x1="406.45" y1="441.0" x2="406.45" y2="438.5" stroke="#000" stroke-width="1.5"/>
<line x1="444.23" y1="441.0" x2="444.23" y2="436.4" stroke="#000" stroke-width="1.5"/>
<line x1="482.02" y1="441.0" x2="482.02" y2="438.5" stroke="#000" stroke-width="1.5"/>
<text transform="translate(26.5,357.6) rotate(-90)" x="0" y="0" font-size="18.2" text-anchor="middle" font-family='"Liberation Sans", sans-serif' fill="#000">Power (dBm)</text>
<text x="66.40" y="458.8" font-size="15" text-anchor="middle" font-family='"Liberation Sans", sans-serif' fill="#000">1549.7</text>
<text x="141.97" y="458.8" font-size="15" text-anchor="middle" font-family='"Liberation Sans", sans-serif' fill="#000">1549.8</text>
<text x="217.53" y="458.8" font-size="15" text-anchor="middle" font-family='"Liberation Sans", sans-serif' fill="#000">1549.9</text>
<text x="293.10" y="458.8" font-size="15" text-anchor="middle" font-family='"Liberation Sans", sans-serif' fill="#000">1550.0</text>
<text x="368.67" y="458.8" font-size="15" text-anchor="middle" font-family='"Liberation Sans", sans-serif' fill="#000">1550.1</text>
<text x="444.23" y="458.8" font-size="15" text-anchor="middle" font-family='"Liberation Sans", sans-serif' fill="#000">1550.2</text>
<text x="519.80" y="458.8" font-size="15" text-anchor="middle" font-family='"Liberation Sans", sans-serif' fill="#000">1550.3</text>
<text x="292.7" y="485.9" font-size="18.5" text-anchor="middle" font-family='"Liberation Sans", sans-serif' fill="#000">Wavelength (nm)</text>
<line x1="351.8" y1="69.0" x2="351.8" y2="80" stroke="#333" stroke-width="1"/>
<line x1="414.6" y1="69.0" x2="414.6" y2="109" stroke="#333" stroke-width="1"/>
<line x1="352.8" y1="72.1" x2="413.6" y2="72.1" stroke="#222" stroke-width="1.1"/>
<path d="M352.1,72.1 L356.3,70.6 L356.3,73.6 Z" fill="#000"/>
<path d="M414.3,72.1 L410.1,70.6 L410.1,73.6 Z" fill="#000"/>
<text x="369.4" y="60.6" font-size="13.6" font-family='"Liberation Sans", sans-serif' fill="#000">80<tspan font-family='"Liberation Serif", serif' font-size="14.5">pm</tspan></text>
<line x1="351.7" y1="228.0" x2="351.7" y2="238.5" stroke="#333" stroke-width="1"/>
<line x1="383.5" y1="228.0" x2="383.5" y2="262" stroke="#333" stroke-width="1"/>
<line x1="352.7" y1="233.8" x2="382.5" y2="233.8" stroke="#222" stroke-width="1.1"/>
<path d="M352.0,233.8 L356.2,232.3 L356.2,235.3 Z" fill="#000"/>
<path d="M383.2,233.8 L379.0,232.3 L379.0,235.3 Z" fill="#000"/>
<text x="352.6" y="221.2" font-size="13.6" font-family='"Liberation Sans", sans-serif' fill="#000">40<tspan font-family='"Liberation Serif", serif' font-size="14.5">pm</tspan></text>
<line x1="307.1" y1="343.8" x2="307.1" y2="349" stroke="#333" stroke-width="1"/>
<line x1="325.4" y1="343.8" x2="325.4" y2="375" stroke="#333" stroke-width="1"/>
<line x1="308.1" y1="345.8" x2="324.4" y2="345.8" stroke="#222" stroke-width="1.1"/>
<path d="M307.40000000000003,345.8 L311.6,344.3 L311.6,347.3 Z" fill="#000"/>
<path d="M325.09999999999997,345.8 L320.9,344.3 L320.9,347.3 Z" fill="#000"/>
<text x="329.2" y="356.4" font-size="13.6" font-family='"Liberation Sans", sans-serif' fill="#000">20<tspan font-family='"Liberation Serif", serif' font-size="14.5">pm</tspan></text>
</svg>
</body></html>
